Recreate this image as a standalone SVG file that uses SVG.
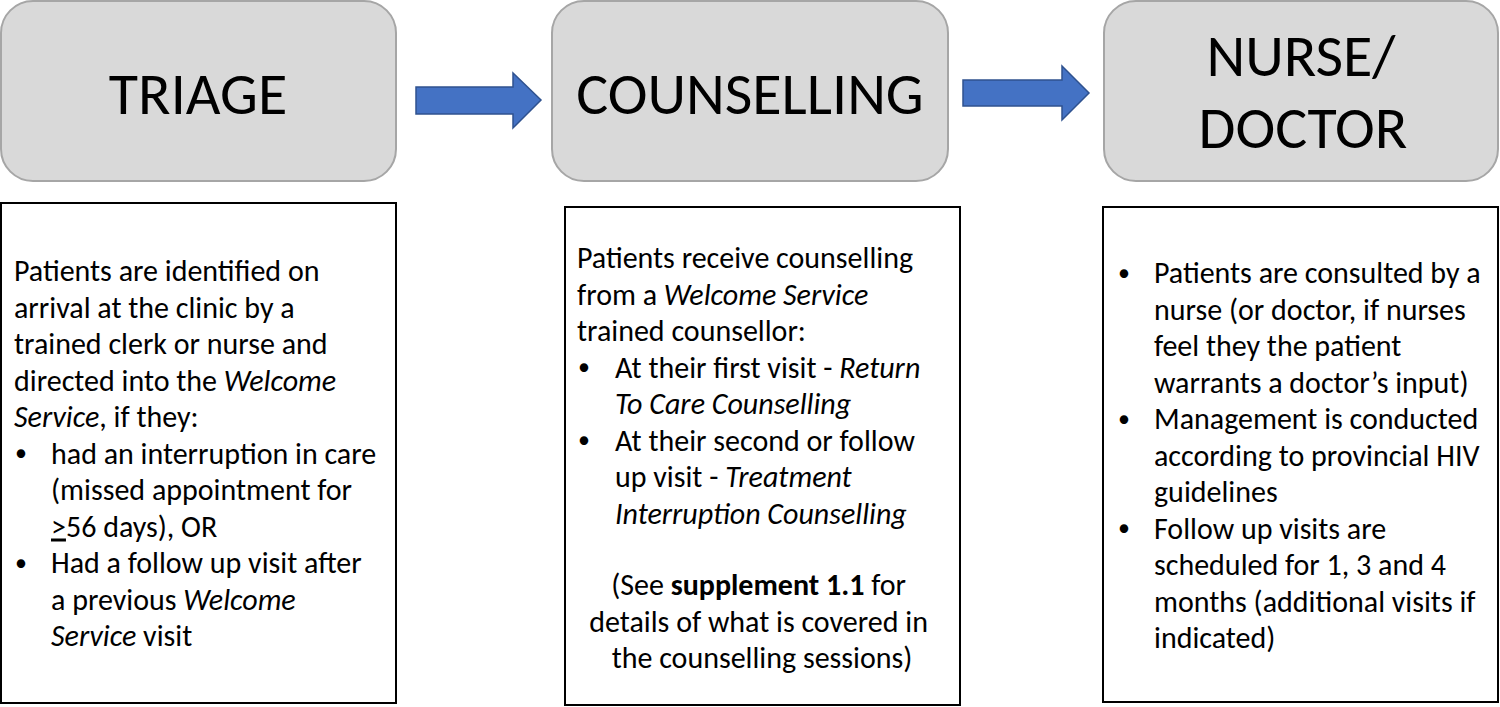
<svg xmlns="http://www.w3.org/2000/svg" width="1500" height="707" viewBox="0 0 1500 707">
<style>
.stage{fill:#d9d9d9;stroke:#a6a6a6;stroke-width:2}
.title{font-family:Carlito,Lato,"Liberation Sans",sans-serif;font-size:60px;fill:#000;text-anchor:middle}
.panel{fill:#fff;stroke:#000;stroke-width:2}
.body{font-family:Carlito,Lato,"Liberation Sans",sans-serif;font-size:30px;fill:#000}
.b{font-size:24px}
.arrow{fill:#4472c4;stroke:#2f528f;stroke-width:1.5}
.c{text-anchor:middle}
</style>
<rect width="1500" height="707" fill="#fff"/>
<g id="triage">
<rect class="stage" x="1" y="1" width="395" height="180" rx="32"/>
<text class="title" x="198" y="114">TRIAGE</text>
</g>
<g id="counselling">
<rect class="stage" x="552" y="1" width="396" height="180" rx="32"/>
<text class="title" x="750" y="114">COUNSELLING</text>
</g>
<g id="nurse-doctor">
<rect class="stage" x="1104" y="1" width="394" height="180" rx="32"/>
<text class="title" x="1301" y="76">NURSE/</text>
<text class="title" x="1303" y="148">DOCTOR</text>
</g>
<g id="triage-details">
<rect class="panel" x="1" y="203" width="395" height="500"/>
<text class="body">
<tspan x="14" y="281">Patients are identified on</tspan>
<tspan x="14" y="317.5">arrival at the clinic by a</tspan>
<tspan x="14" y="354">trained clerk or nurse and</tspan>
<tspan x="14" y="390.5">directed into the <tspan font-style="italic">Welcome</tspan></tspan>
<tspan x="14" y="427"><tspan font-style="italic">Service</tspan>, if they:</tspan>
<tspan x="15" y="461" class="b">•</tspan><tspan x="51" y="463.5">had an interruption in care</tspan>
<tspan x="51" y="500">(missed appointment for</tspan>
<tspan x="51" y="536.5"><tspan text-decoration="underline">&gt;</tspan>56 days), OR</tspan>
<tspan x="15" y="570.5" class="b">•</tspan><tspan x="51" y="573">Had a follow up visit after</tspan>
<tspan x="51" y="609.5">a previous <tspan font-style="italic">Welcome</tspan></tspan>
<tspan x="51" y="646"><tspan font-style="italic">Service</tspan> visit</tspan>
</text>
</g>
<g id="counselling-details">
<rect class="panel" x="565" y="207" width="395" height="498"/>
<text class="body">
<tspan x="577" y="268">Patients receive counselling</tspan>
<tspan x="577" y="304.5">from a <tspan font-style="italic">Welcome Service</tspan></tspan>
<tspan x="577" y="341">trained counsellor:</tspan>
<tspan x="578" y="375" class="b">•</tspan><tspan x="615" y="377.5">At their first visit - <tspan font-style="italic">Return</tspan></tspan>
<tspan x="615" y="414" font-style="italic">To Care Counselling</tspan>
<tspan x="578" y="448" class="b">•</tspan><tspan x="615" y="450.5">At their second or follow</tspan>
<tspan x="615" y="487">up visit - <tspan font-style="italic">Treatment</tspan></tspan>
<tspan x="615" y="523.5" font-style="italic">Interruption Counselling</tspan>
</text>
<text class="body c">
<tspan x="762" y="595">(See <tspan font-weight="bold">supplement 1.1</tspan> for</tspan>
<tspan x="762" y="631.5">details of what is covered in</tspan>
<tspan x="762" y="668">the counselling sessions)</tspan>
</text>
</g>
<g id="nurse-doctor-details">
<rect class="panel" x="1103" y="207" width="395" height="495"/>
<text class="body">
<tspan x="1118" y="280.5" class="b">•</tspan><tspan x="1154" y="283">Patients are consulted by a</tspan>
<tspan x="1154" y="319.5">nurse (or doctor, if nurses</tspan>
<tspan x="1154" y="356">feel they the patient</tspan>
<tspan x="1154" y="392.5">warrants a doctor’s input)</tspan>
<tspan x="1118" y="426.5" class="b">•</tspan><tspan x="1154" y="429">Management is conducted</tspan>
<tspan x="1154" y="465.5">according to provincial HIV</tspan>
<tspan x="1154" y="502">guidelines</tspan>
<tspan x="1118" y="536" class="b">•</tspan><tspan x="1154" y="538.5">Follow up visits are</tspan>
<tspan x="1154" y="575">scheduled for 1, 3 and 4</tspan>
<tspan x="1154" y="611.5">months (additional visits if</tspan>
<tspan x="1154" y="648">indicated)</tspan>
</text>
</g>
<g id="connectors">
<polygon class="arrow" points="416,87 513,87 513,73 541,100 513,128 513,114 416,114"/>
<polygon class="arrow" points="963,80 1062,80 1062,66 1089,93 1062,120 1062,106 963,106"/>
</g>
</svg>
